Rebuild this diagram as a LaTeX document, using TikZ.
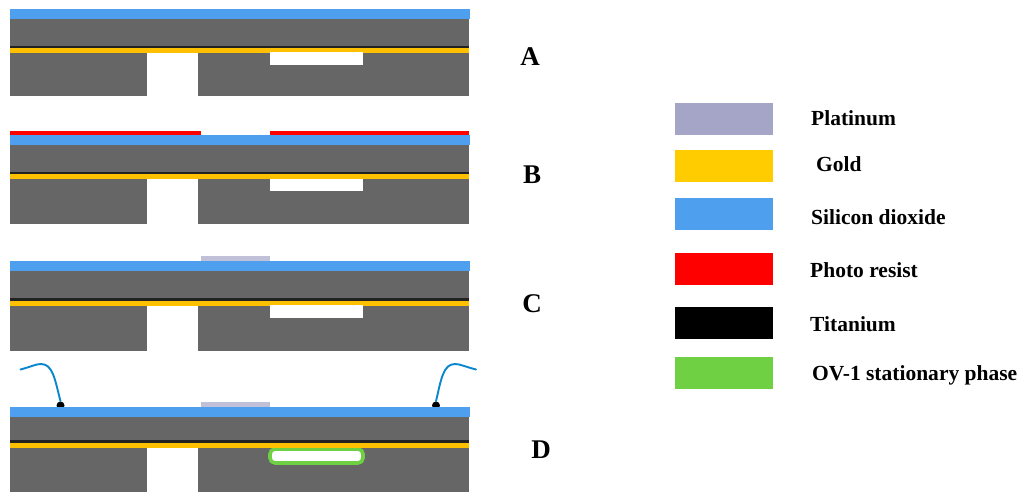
\documentclass[tikz,border=0pt]{standalone}
\usepackage{fontspec}
\setmainfont{Liberation Serif}
\definecolor{sigray}{HTML}{666666}
\definecolor{sioblue}{HTML}{4F9FEF}
\definecolor{goldline}{HTML}{FFC000}
\definecolor{goldkey}{HTML}{FFCC00}
\definecolor{ptkey}{HTML}{A5A5C8}
\definecolor{ptlayer}{HTML}{C0C0D8}
\definecolor{ovgreen}{HTML}{70D044}
\definecolor{tiblack}{HTML}{222222}
\definecolor{wireblue}{HTML}{0A86CE}
\tikzset{
  swatch/.style={minimum width=98pt,minimum height=32pt,inner sep=0pt,outer sep=0pt,anchor=north west,draw=none},
  keylabel/.style={font=\bfseries\fontsize{21.5}{24}\selectfont,anchor=base west,inner sep=0pt},
  stageletter/.style={font=\bfseries\fontsize{27}{30}\selectfont,inner sep=0pt},
  wirestyle/.style={draw=wireblue,line width=1.9pt,line cap=round},
  contact/.style={circle,fill=black,inner sep=0pt,minimum size=8pt}
}
% #1 top of the oxide, #2 gray height, #3 lower-substrate bottom, #4 cavity bottom offset
\newcommand{\waferstack}[4]{%
  \fill[sioblue] (10,#1) rectangle (469.5,#1+10.2);
  \fill[sigray] (10,#1+10) rectangle (469,#1+10+#2);
  \fill[tiblack] (10,#1+9.7+#2) rectangle (469,#1+12+#2);
  \fill[goldline] (10,#1+12+#2) rectangle (469,#1+17+#2);
  \fill[sigray] (10,#1+17+#2) rectangle (147,#3);
  \fill[sigray] (198,#1+17+#2) rectangle (469,#3);
  \fill[white] (270,#1+16.5+#2) rectangle (363,#1+#4);
}
\begin{document}
\begin{tikzpicture}[x=1pt,y=-1pt]
\useasboundingbox (0,0) rectangle (1024,502);
\fill[white] (0,0) rectangle (1024,502);
% A
\waferstack{9}{27}{96.5}{56}
% B
\fill[red] (10,131) rectangle (201,135.5);
\fill[red] (270,131) rectangle (469,135.5);
\waferstack{135}{27.5}{224}{56}
% C
\fill[ptlayer] (201,256) rectangle (270,261);
\waferstack{261}{27.5}{350.5}{57}
% D
\fill[ptlayer] (201,402) rectangle (270,407);
\node[contact] (cl) at (60.5,405.5) {};
\node[contact] (cr) at (436,405.5) {};
\waferstack{407}{23.5}{492}{52}
\fill[sigray] (265,448) rectangle (368,468);
\filldraw[draw=ovgreen,fill=white,line width=3.6pt,rounded corners=5pt] (270,449) rectangle (363,463);
\fill[goldline] (266,443) rectangle (367,447.6);
% wires
\coordinate (wl) at (20.5,369.5);
\coordinate (wr) at (476,369.5);
\draw[wirestyle] (wl) .. controls (30,367) and (36,364) .. (41,364) .. controls (53,364) and (55,380) .. (cl.north);
\draw[wirestyle] (wr) .. controls (466,367) and (460,364) .. (455,364) .. controls (443,364) and (441,380) .. (cr.north);
% stage letters
\node[stageletter] (la) at (530,56.5) {A};
\node[stageletter] (lb) at (532,174.5) {B};
\node[stageletter] (lc) at (532,303.5) {C};
\node[stageletter] (ld) at (541,449.5) {D};
% legend
\node[swatch,fill=ptkey] (k1) at (675,103) {};
\node[swatch,fill=goldkey] (k2) at (675,150) {};
\node[swatch,fill=sioblue] (k3) at (675,198) {};
\node[swatch,fill=red] (k4) at (675,253) {};
\node[swatch,fill=black] (k5) at (675,307) {};
\node[swatch,fill=ovgreen] (k6) at (675,357) {};
\node[keylabel] (t1) at (811,126) {Platinum};
\node[keylabel] (t2) at (816,172) {Gold};
\node[keylabel] (t3) at (811,225) {Silicon dioxide};
\node[keylabel] (t4) at (810,277) {Photo resist};
\node[keylabel] (t5) at (810,331) {Titanium};
\node[keylabel] (t6) at (812,380) {OV-1 stationary phase};
\end{tikzpicture}
\end{document}
